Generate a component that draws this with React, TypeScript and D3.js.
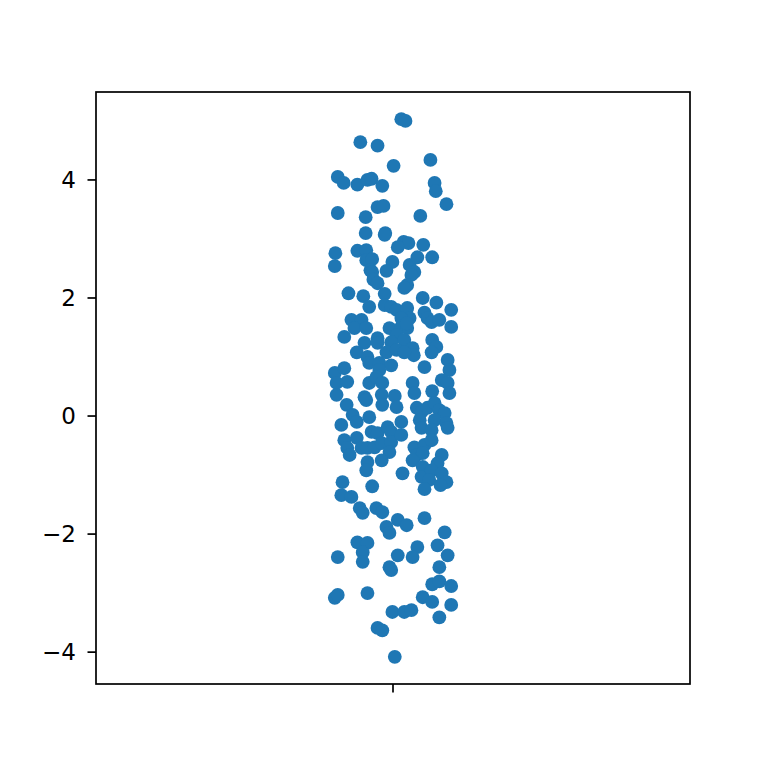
import React, { useEffect } from "react";
import * as d3 from "d3";

const category = "";
const jitter: number[] = [
  0.014, 0.021, -0.055, -0.026, 0.063, 0.001, -0.093, -0.083, -0.06, -0.043, -0.036, -0.018, 0.07, 0.072, 0.09, -0.026, -0.016,
  -0.093, -0.046, 0.046, -0.046, -0.013, -0.014, 0.018, 0.026, 0.008, 0.051, 0.066, -0.097, -0.098, -0.06, -0.045, -0.045, -0.035, -0.001, -0.038, -0.035, -0.011, 0.028, 0.036, 0.031, 0.041, -0.033, -0.026, 0.024, 0.019, -0.075, -0.05, -0.014, 0.05, 0.073,
  0.098, -0.04, -0.014, -0.003, 0.006, 0.024, 0.028, 0.053, 0.058, 0.065, 0.078, 0.098, -0.07, -0.053, -0.065, -0.045, -0.082, -0.006, 0.014, 0.024, 0.006, -0.048, -0.026, -0.026, -0.003, 0.019, 0.033, 0.035, 0.066, 0.073, 0.065, -0.061, -0.043, -0.04, -0.011, 0.006, 0.019, -0.023, -0.003, -0.023, 0.053, 0.092, 0.095, -0.098, -0.082, -0.095, -0.077, -0.04, -0.028, -0.018, 0.033, 0.082, 0.092, -0.019, 0.003, 0.036, 0.066, 0.095, -0.095,
  0.014, 0.023, -0.048,
  -0.078, -0.045, -0.018, 0.006, 0.04, 0.048, 0.058, 0.07, 0.078, 0.087, -0.068, -0.061, -0.04, -0.087, -0.036, -0.026, -0.009, -0.003, 0.014, 0.045, 0.048, 0.07, 0.09, 0.092, 0.065, -0.082, -0.061, -0.077, -0.073, -0.053, -0.043, -0.031, -0.019, -0.003, 0.014, -0.006, -0.019, 0.036, 0.04, 0.053, 0.065, 0.05, 0.033, -0.043, -0.045, 0.016, 0.082, 0.075, 0.05, 0.048, 0.065, 0.061, 0.082, 0.09, -0.085, -0.035, 0.053, 0.08,
  -0.087, -0.07, -0.056, -0.051, -0.028, -0.018, 0.008, 0.023, 0.053, -0.011, -0.006, 0.087, -0.06, -0.043, -0.051, 0.075, -0.093, -0.051, 0.008, 0.041, 0.033, -0.006, -0.003, 0.078, 0.092, 0.066, 0.078, 0.098,
  -0.098, -0.093, -0.043, 0.05, 0.066, 0.098, 0.078, -0.001, 0.019, 0.031, -0.026, -0.018, 0.003,
];
const values: number[] = [
  5.03, 5.0, 4.64, 4.58, 4.34, 4.24, 4.05, 3.95, 3.92, 4.0, 4.02, 3.9, 3.95, 3.81, 3.59, 3.54, 3.56,
  3.44, 3.37, 3.39, 3.1, 3.1, 3.07, 2.95, 2.93, 2.86, 2.9, 2.69, 2.76, 2.54, 2.8, 2.81, 2.64, 2.66, 2.61, 2.47, 2.44, 2.46, 2.56, 2.44, 2.39, 2.69, 2.31, 2.25, 2.22, 2.17, 2.08, 2.03, 2.07, 2.0, 1.92,
  1.8, 1.85, 1.88, 1.85, 1.8, 1.83, 1.66, 1.75, 1.66, 1.59, 1.63, 1.51, 1.63, 1.63, 1.49, 1.49, 1.34, 1.49, 1.51, 1.49, 1.37, 1.24, 1.32, 1.24, 1.25, 1.29, 1.15, 1.03, 1.29, 1.17, 1.08, 1.08, 1.0, 0.9, 1.08, 1.12, 1.08, 0.9, 0.86, 0.78, 0.83, 0.95, 0.78, 0.73, 0.81, 0.56, 0.58, 0.56, 0.66, 0.56, 0.56, 0.61, 0.56, 0.36, 0.34, 0.39, 0.42, 0.39, 0.36,
  1.66, 1.57, 0.32,
  0.19, 0.27, 0.19, 0.15, 0.14, 0.07, 0.14, 0.22, 0.1, 0.05, 0.02, -0.1, -0.02, -0.15, -0.27, -0.29, -0.19, -0.27, -0.1, -0.07, -0.2, -0.07, -0.12, -0.2, -0.24, -0.41, -0.37, -0.54, -0.66, -0.54, -0.54, -0.53, -0.46, -0.44, -0.32, -0.61, -0.75, -0.53, -0.66, -0.49, -0.41, -0.63, -0.75, -0.78, -0.92, -0.97, -0.66, -0.8, -0.86, -1.03, -0.92, -1.08, -0.97, -1.12, -1.12, -1.19, -1.24, -1.17,
  -1.34, -1.37, -1.56, -1.64, -1.56, -1.63, -1.76, -1.85, -1.73, -1.88, -1.98, -1.97, -2.14, -2.15, -2.31, -2.19, -2.39, -2.47, -2.36, -2.22, -2.39, -2.56, -2.61, -2.56, -2.36, -2.85, -2.8, -2.88,
  -3.08, -3.03, -3.0, -3.07, -3.15, -3.2, -3.41, -3.32, -3.32, -3.29, -3.59, -3.63, -4.08,
];
const yTicks: number[] = [-4, -2, 0, 2, 4];

export default function App() {
  useEffect(() => {
    document.body.style.margin = "0";
  }, []);
  const W = 768, H = 768;
  const left = 96, right = 690, top = 92, bottom = 684;
  const x = d3.scaleLinear().domain([-0.5, 0.5]).range([left, right]);
  const y = d3.scaleLinear().domain([-4.54, 5.49]).range([bottom, top]);
  const pts = values.map((v, i) => ({ v, j: jitter[i] ?? 0 }));
  const fmt = (t: number) => (t < 0 ? "\u2212" + Math.abs(t) : String(t));
  return (
    <svg width={W} height={H} style={{ display: "block", background: "#fff" }} fontFamily="DejaVu Sans">
      <g>
        {pts.map((p, i) => (
          <circle key={i} cx={x(p.j)} cy={y(p.v)} r={6.9} fill="#1f77b4" />
        ))}
      </g>
      <rect x={left} y={top} width={right - left} height={bottom - top} fill="none" stroke="#000" strokeWidth={1.7} />
      {yTicks.map((t) => (
        <g key={t} transform={`translate(0,${y(t)})`}>
          <line x1={left - 8.5} x2={left} stroke="#000" strokeWidth={1.7} />
          <text x={left - 20} dy="0.36em" textAnchor="end" fontSize={23} fill="#000">
            {fmt(t)}
          </text>
        </g>
      ))}
      <g transform={`translate(${x(0)},${bottom})`}>
        <line y1={0} y2={8.5} stroke="#000" strokeWidth={1.7} />
        <text y={30} textAnchor="middle" fontSize={23}>{category}</text>
      </g>
    </svg>
  );
}
